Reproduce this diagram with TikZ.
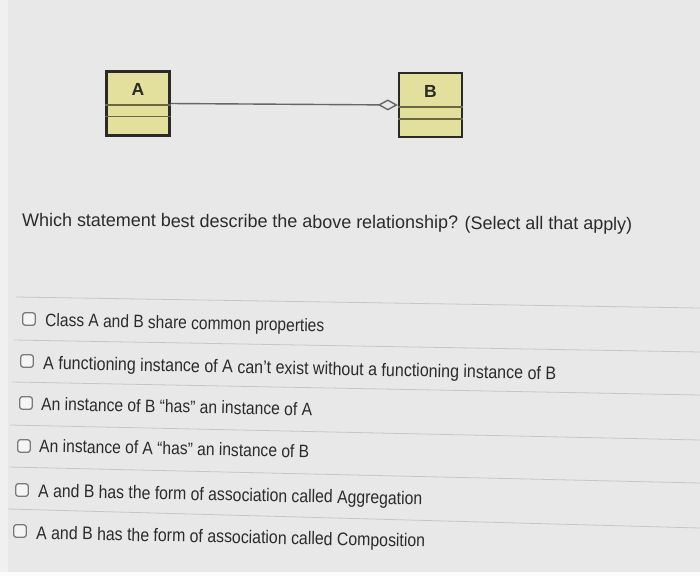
\documentclass[tikz,border=0pt]{standalone}
\usepackage{fontspec}
\setmainfont{Liberation Sans}
\usetikzlibrary{arrows.meta,calc}
\definecolor{bg}{HTML}{E8E8E8}
\definecolor{bgl}{HTML}{F0F0F0}
\definecolor{boxfill}{HTML}{E3E09E}
\definecolor{boxline}{HTML}{2A2A26}
\definecolor{divline}{HTML}{6A6842}
\definecolor{txt}{HTML}{2B2B2B}
\definecolor{sep}{HTML}{C6C6C6}
\definecolor{cb}{HTML}{7A7A7A}
\definecolor{conn}{HTML}{666666}
\tikzset{
  umlbox/.style={draw=boxline, line width=2.4pt, fill=boxfill, minimum width=63pt, minimum height=64pt, inner sep=0pt},
  divider/.style={draw=divline, line width=1.5pt},
  seprule/.style={draw=sep, line width=0.8pt},
  chk/.style={draw=cb, line width=1.3pt, rounded corners=2.5pt, minimum width=12.5pt, minimum height=12.5pt, inner sep=0pt, fill=white!55!bg, rotate=-1},
  umllabel/.style={inner sep=0pt, text=boxline, font=\bfseries\fontsize{17.5}{17.5}\selectfont},
  opt/.style={anchor=base west, inner sep=0pt, text=txt, rotate=-1.2},
  qtext/.style={anchor=base west, inner sep=0pt, text=txt, rotate=-0.4},
}
\begin{document}
\begin{tikzpicture}[x=1pt,y=-1pt]
\useasboundingbox (0,0) rectangle (700,576);
\fill[bg] (0,0) rectangle (700,576);
\fill[bgl] (0,0) rectangle (8,576);
\fill[white!85!bg] (0,572) rectangle (700,576);
% UML boxes
\node[umlbox] (A) at (138,103.5) {};
\node[umlbox] (B) at (430.5,105) {};
\node[umllabel] (Al) at ($(A.north)+(0,19)$) {A};
\node[umllabel] (Bl) at ($(B.north)+(0,20)$) {B};
\draw[divider] ($(A.north west)+(0,34.5)$) -- ($(A.north east)+(0,34.5)$);
\draw[divider] ($(A.north west)+(0,46)$) -- ($(A.north east)+(0,46)$);
\draw[divider] ($(B.north west)+(0,35)$) -- ($(B.north east)+(0,35)$);
\draw[divider] ($(B.north west)+(0,47)$) -- ($(B.north east)+(0,47)$);
\draw[conn, line width=1.4pt, -{Diamond[open, length=20pt, width=11pt, line width=1.4pt]}] (A.east) -- (B.west);
% question
\node[qtext] (q) at (22,226) {\resizebox{610pt}{13.2pt}{Which statement best describe the above relationship? (Select all that apply)}};
% separators
\draw[seprule] (16,297) -- (700,308);
\draw[seprule] (14,340) -- (700,352);
\draw[seprule] (12,382) -- (700,395);
\draw[seprule] (10,425) -- (700,440);
\draw[seprule] (9,467) -- (700,483);
\draw[seprule] (8,509) -- (700,528);
% options
\node[chk] (c1) at (29,319) {};
\node[opt] (o1) at (45,326) {\resizebox{279pt}{13pt}{Class A and B share common properties}};
\node[chk] (c2) at (27,361) {};
\node[opt] (o2) at (43,369) {\resizebox{513pt}{13.2pt}{A functioning instance of A can’t exist without a functioning instance of B}};
\node[chk] (c3) at (26,403) {};
\node[opt] (o3) at (41,410) {\resizebox{271pt}{13pt}{An instance of B “has” an instance of A}};
\node[chk] (c4) at (24,446) {};
\node[opt] (o4) at (39,452) {\resizebox{270pt}{13pt}{An instance of A “has” an instance of B}};
\node[chk] (c5) at (22,490) {};
\node[opt] (o5) at (38,497) {\resizebox{384pt}{13.2pt}{A and B has the form of association called Aggregation}};
\node[chk] (c6) at (20,531) {};
\node[opt] (o6) at (36,539) {\resizebox{389pt}{13.2pt}{A and B has the form of association called Composition}};
\end{tikzpicture}
\end{document}
